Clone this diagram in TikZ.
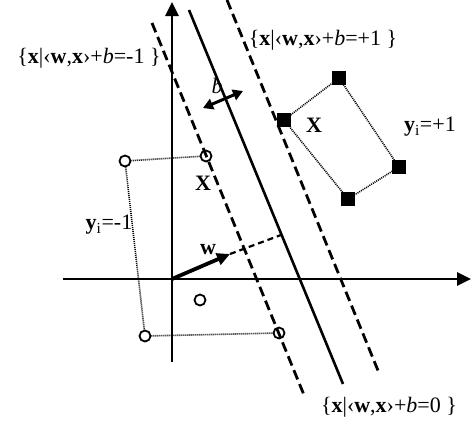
\documentclass[tikz,border=0pt]{standalone}
\usepackage{fontspec}
\setmainfont{Liberation Serif}
\usetikzlibrary{arrows.meta}

\begin{document}
\begin{tikzpicture}[x=1pt,y=-1pt]
\tikzstyle{every node}=[font=\fontsize{22}{26}\selectfont,inner sep=0pt];
\tikzstyle{negsample}=[draw,circle,line width=1.8pt,minimum size=11pt];
\tikzstyle{possample}=[draw,fill,rectangle,minimum size=13pt];
\tikzstyle{hull}=[line width=1.6pt,dash pattern=on 1pt off 1pt];
\tikzstyle{margin}=[line width=2.8pt,dash pattern=on 10pt off 5pt];
\tikzstyle{axis}=[line width=2.8pt,-{Triangle[length=14pt,width=13pt]}];
\useasboundingbox (0,0) rectangle (474,440);
% axes
\coordinate (o) at (172,279);
\coordinate (xl) at (63,279);
\coordinate (xr) at (471,279);
\coordinate (yb) at (172,362);
\coordinate (yt) at (172,2);
\draw[axis] (xl) -- (xr);
\draw[axis] (yb) -- (yt);
% separating hyperplane and margins
\coordinate (h0a) at (189,10);
\coordinate (h0b) at (343,384);
\coordinate (hma) at (152,23);
\coordinate (hmb) at (304,395);
\coordinate (hpa) at (227,0);
\coordinate (hpb) at (379,373);
\draw[line width=2.6pt] (h0a) -- (h0b);
\draw[margin] (hma) -- (hmb);
\draw[margin] (hpa) -- (hpb);
% normal vector w
\coordinate (wtip) at (230,254);
\coordinate (wend) at (281,235);
\draw[line width=3.8pt,-{Triangle[length=13pt,width=12pt]}] (o) -- (wtip);
\draw[line width=2.2pt,dash pattern=on 6pt off 4pt] (wtip) -- (wend);
\node at (208,250) {\textbf{w}};
% offset b
\coordinate (ba) at (203,108);
\coordinate (bb) at (243,91);
\draw[line width=3pt,{Triangle[length=10pt,width=11pt]}-{Triangle[length=10pt,width=11pt]}] (ba) -- (bb);
\node at (217,86) {\textit{b}};
% class y=-1
\node[negsample] (c1) at (125,161) {};
\node[negsample] (c2) at (206,156) {};
\node[negsample] (c3) at (145,336) {};
\node[negsample] (c4) at (279,333) {};
\node[negsample] (c5) at (200,300) {};
\draw[hull] (c2) -- (c1) -- (c3) -- (c4);
\node at (203,183) {\textbf{X}};
\node at (109,225) {\textbf{y}\textsubscript{i}=-1};
% class y=+1
\node[possample] (s1) at (284,120) {};
\node[possample] (s2) at (339,78) {};
\node[possample] (s3) at (399,167) {};
\node[possample] (s4) at (348,199) {};
\draw[hull] (s1) -- (s2) -- (s3) -- (s4) -- (s1);
\node at (314,125) {\textbf{X}};
\node at (430,127) {\textbf{y}\textsubscript{i}=+1};
% hyperplane labels
\node (lm) at (89,58) {\{\textbf{x}|‹\textbf{w},\textbf{x}›+\textit{b}=-1 \}};
\node (lp) at (323,40) {\{\textbf{x}|‹\textbf{w},\textbf{x}›+\textit{b}=+1 \}};
\node (l0) at (389,407) {\{\textbf{x}|‹\textbf{w},\textbf{x}›+\textit{b}=0 \}};
\end{tikzpicture}
\end{document}
